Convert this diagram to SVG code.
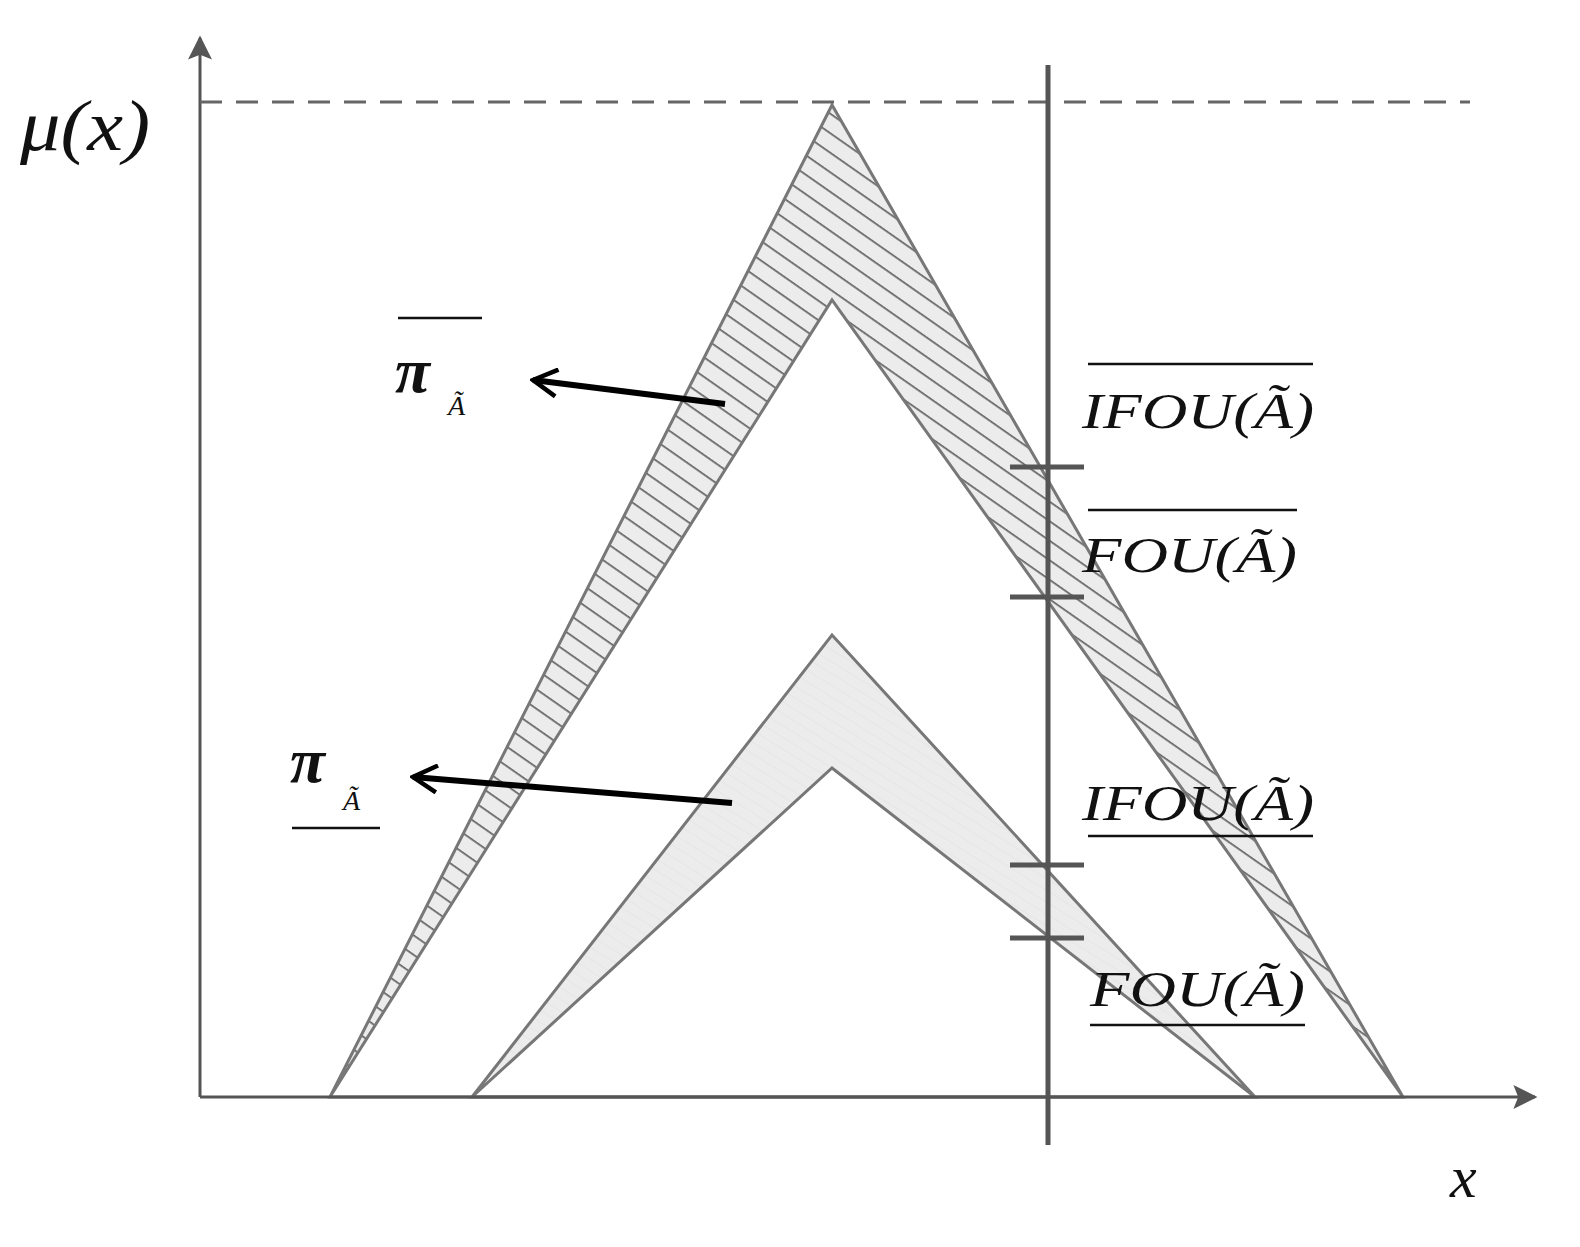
<svg xmlns="http://www.w3.org/2000/svg" width="1580" height="1247" viewBox="0 0 1580 1247">
<style>
.ax{stroke:#555;stroke-width:3;fill:none}
.tri{stroke:#777;stroke-width:3}
.t{font-family:"Liberation Serif",serif;font-style:italic;fill:#111}
.bar{stroke:#111;stroke-width:2.5}
.arr{stroke:#000;stroke-width:6;fill:none}
</style>
<defs>
<pattern id="hatch" patternUnits="userSpaceOnUse" width="16" height="16" patternTransform="rotate(35)">
<rect width="16" height="16" fill="#ececec"/>
<line x1="0" y1="0" x2="16" y2="0" stroke="#666" stroke-width="3.5"/>
</pattern>
<pattern id="hatch2" patternUnits="userSpaceOnUse" width="10" height="10" patternTransform="rotate(32)">
<rect width="10" height="10" fill="#ececec"/>
<line x1="0" y1="0" x2="10" y2="0" stroke="#e0e0e0" stroke-width="1"/>
</pattern>
<marker id="ah" viewBox="0 0 20 20" refX="18" refY="10" markerWidth="5" markerHeight="5" orient="auto" markerUnits="strokeWidth">
<path d="M2,1 L18,10 L2,19" fill="none" stroke="#000" stroke-width="3"/>
</marker>
<marker id="axa" viewBox="0 0 10 10" refX="9" refY="5" markerWidth="28" markerHeight="24" orient="auto" markerUnits="userSpaceOnUse">
<path d="M0,0 L10,5 L0,10 L2,5 Z" fill="#555"/>
</marker>
</defs>
<rect width="1580" height="1247" fill="#fff"/>
<g id="bands">
<path class="tri" d="M330,1097 L832,105 L1403,1097 Z M330,1097 L832,300 L1403,1097 Z" fill="url(#hatch)" fill-rule="evenodd"/>
<path class="tri" d="M472,1097 L832,635 L1255,1097 Z M472,1097 L832,768 L1255,1097 Z" fill="url(#hatch2)" fill-rule="evenodd"/>
</g>
<g id="axes">
<line class="ax" x1="200" y1="1097" x2="200" y2="38" marker-end="url(#axa)"/>
<line class="ax" x1="200" y1="1097" x2="1535" y2="1097" marker-end="url(#axa)"/>
<line x1="200" y1="102" x2="1470" y2="102" stroke="#666" stroke-width="3" stroke-dasharray="22,14"/>
<line x1="1048" y1="65" x2="1048" y2="1145" stroke="#555" stroke-width="5"/>
<g stroke="#555" stroke-width="5">
<line x1="1010" y1="467" x2="1084" y2="467"/>
<line x1="1010" y1="597" x2="1084" y2="597"/>
<line x1="1010" y1="865" x2="1084" y2="865"/>
<line x1="1010" y1="938" x2="1084" y2="938"/>
</g>
</g>
<g id="connectors">
<line class="arr" x1="725" y1="404" x2="533" y2="380" marker-end="url(#ah)"/>
<line class="arr" x1="732" y1="803" x2="413" y2="777" marker-end="url(#ah)"/>
</g>
<g id="labels">
<text class="t" x="20" y="150" font-size="72" textLength="130" lengthAdjust="spacingAndGlyphs">μ(x)</text>
<text class="t" x="1450" y="1197" font-size="60">x</text>
<g id="pi-upper">
<line class="bar" x1="398" y1="318" x2="482" y2="318"/>
<text class="t" x="395" y="392" font-size="64" font-weight="bold">π</text>
<text class="t" x="448" y="415" font-size="28">Ã</text>
</g>
<g id="pi-lower">
<text class="t" x="290" y="782" font-size="64" font-weight="bold">π</text>
<text class="t" x="343" y="810" font-size="28">Ã</text>
<line class="bar" x1="292" y1="828" x2="380" y2="828"/>
</g>
<g id="ifou-upper">
<line class="bar" x1="1088" y1="364" x2="1313" y2="364"/>
<text class="t" x="1082" y="428" font-size="50" textLength="232" lengthAdjust="spacingAndGlyphs">IFOU(Ã)</text>
</g>
<g id="fou-upper">
<line class="bar" x1="1088" y1="510" x2="1297" y2="510"/>
<text class="t" x="1082" y="572" font-size="50" textLength="215" lengthAdjust="spacingAndGlyphs">FOU(Ã)</text>
</g>
<g id="ifou-lower">
<text class="t" x="1082" y="820" font-size="50" textLength="232" lengthAdjust="spacingAndGlyphs">IFOU(Ã)</text>
<line class="bar" x1="1088" y1="836" x2="1313" y2="836"/>
</g>
<g id="fou-lower">
<text class="t" x="1090" y="1006" font-size="50" textLength="215" lengthAdjust="spacingAndGlyphs">FOU(Ã)</text>
<line class="bar" x1="1090" y1="1025" x2="1305" y2="1025"/>
</g>
</g>
</svg>
